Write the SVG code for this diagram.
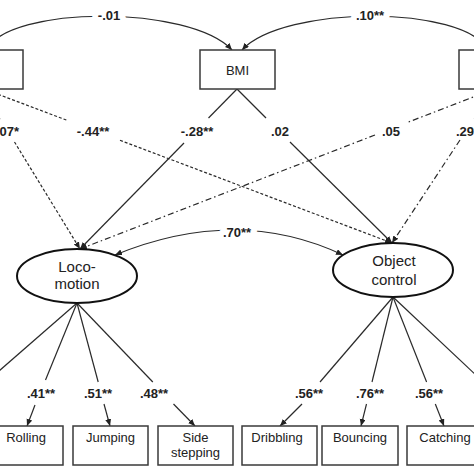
<svg xmlns="http://www.w3.org/2000/svg" width="474" height="474" viewBox="0 0 474 474">
<defs>
<marker id="ah" markerUnits="userSpaceOnUse" markerWidth="9" markerHeight="8" refX="7" refY="3" orient="auto-start-reverse">
<path d="M0,0 L7,3 L0,6 z" fill="#222"/>
</marker>
<style>
.box{fill:#fff;stroke:#3a3a3a;stroke-width:1.5}
.lat{fill:#fff;stroke:#111;stroke-width:2}
.ln{fill:none;stroke:#2a2a2a;stroke-width:1.2}
.dash{stroke-dasharray:3,2}
.dd{stroke-dasharray:6,3,1.5,3}
.t{font-family:"Liberation Sans",Arial,sans-serif;font-size:13px;fill:#222;text-anchor:middle}
.tl{font-family:"Liberation Sans",Arial,sans-serif;font-size:15px;fill:#222;text-anchor:middle}
.n{font-family:"Liberation Sans",Arial,sans-serif;font-size:13px;font-weight:bold;fill:#222;text-anchor:middle}
.halo{stroke:#fff;stroke-width:12;paint-order:stroke;stroke-linejoin:round}
</style>
</defs>
<rect width="474" height="474" fill="#fff"/>
<g id="connectors">
<!-- top correlations -->
<path class="ln" d="M -14,50 C 10,5 190,5 232,50" marker-start="url(#ah)" marker-end="url(#ah)"/>
<path class="ln" d="M 488,50 C 464,5 284,5 242,50" marker-start="url(#ah)" marker-end="url(#ah)"/>
<!-- latent correlation -->
<path class="ln" d="M 115,255 Q 237,205 343,255" marker-start="url(#ah)" marker-end="url(#ah)"/>
<!-- left box to Loco-motion (dashed) -->
<path class="ln dash" d="M -18,89 L 0.4,119"/>
<path class="ln dash" d="M 14.5,142 L 80,249" marker-end="url(#ah)"/>
<!-- left box to Object control (dashed) -->
<path class="ln dash" d="M -16,89 L 67,120.3"/>
<path class="ln dash" d="M 120,140.3 L 392,243" marker-end="url(#ah)"/>
<!-- BMI to Loco-motion -->
<path class="ln" d="M 237,89 L 208.5,118"/>
<path class="ln" d="M 184,143 L 80,249" marker-end="url(#ah)"/>
<!-- BMI to Object control -->
<path class="ln" d="M 237,89 L 266,118"/>
<path class="ln" d="M 290,142 L 392,243" marker-end="url(#ah)"/>
<!-- right box to Loco-motion (dash-dot) -->
<path class="ln dd" d="M 494,89 L 407,122.6"/>
<path class="ln dd" d="M 375,135 L 80,249" marker-end="url(#ah)"/>
<!-- right box to Object control (dash-dot) -->
<path class="ln dd" d="M 494,89 L 474,119"/>
<path class="ln dd" d="M 460,140 L 392,243" marker-end="url(#ah)"/>
<!-- Loco-motion indicators -->
<path class="ln" d="M 77,303 L -64,426" marker-end="url(#ah)"/>
<path class="ln" d="M 77,303 L 45.5,380"/>
<path class="ln" d="M 35,405 L 27,426" marker-end="url(#ah)"/>
<path class="ln" d="M 77,303 L 98.2,382"/>
<path class="ln" d="M 104,404 L 110,426" marker-end="url(#ah)"/>
<path class="ln" d="M 77,303 L 152.8,382"/>
<path class="ln" d="M 173.5,404 L 195,426" marker-end="url(#ah)"/>
<!-- Object control indicators -->
<path class="ln" d="M 393,297 L 320,382"/>
<path class="ln" d="M 302,404 L 280,426" marker-end="url(#ah)"/>
<path class="ln" d="M 393,297 L 372,382"/>
<path class="ln" d="M 366.5,404 L 361,426" marker-end="url(#ah)"/>
<path class="ln" d="M 393,297 L 426.6,382"/>
<path class="ln" d="M 435.3,404 L 444,426" marker-end="url(#ah)"/>
<path class="ln" d="M 393,297 L 530,426" marker-end="url(#ah)"/>
</g>
<g id="labels">
<text class="n halo" x="109" y="20">-.01</text>
<text class="n halo" x="370" y="20">.10**</text>
<text class="n halo" x="237" y="237">.70**</text>
<text class="n" x="19" y="136" style="text-anchor:end">.07*</text>
<text class="n" x="93" y="136">-.44**</text>
<text class="n" x="197" y="136">-.28**</text>
<text class="n" x="280" y="136">.02</text>
<text class="n" x="391" y="136">.05</text>
<text class="n" x="456" y="136" style="text-anchor:start">.29**</text>
<text class="n" x="41" y="398">.41**</text>
<text class="n" x="98" y="398">.51**</text>
<text class="n" x="154" y="398">.48**</text>
<text class="n" x="309" y="398">.56**</text>
<text class="n" x="370" y="398">.76**</text>
<text class="n" x="429" y="398">.56**</text>
</g>
<g id="node-left"><rect class="box" x="-52" y="50" width="75" height="39"/></g>
<g id="node-bmi"><rect class="box" x="200" y="50" width="75" height="39"/><text class="t" x="237.5" y="75">BMI</text></g>
<g id="node-right"><rect class="box" x="459" y="50" width="75" height="39"/></g>
<g id="node-loco"><ellipse class="lat" cx="77" cy="276" rx="60" ry="27"/><text class="tl" x="77" y="272">Loco-</text><text class="tl" x="77" y="289">motion</text></g>
<g id="node-object"><ellipse class="lat" cx="393" cy="270" rx="60" ry="27"/><text class="tl" x="394" y="266">Object</text><text class="tl" x="394" y="285">control</text></g>
<g id="node-rolling"><rect class="box" x="-12" y="426" width="75" height="39"/><text class="t" x="26" y="442">Rolling</text></g>
<g id="node-jumping"><rect class="box" x="73" y="426" width="75" height="39"/><text class="t" x="110.5" y="442">Jumping</text></g>
<g id="node-side"><rect class="box" x="158" y="426" width="75" height="39"/><text class="t" x="195.5" y="442">Side</text><text class="t" x="195.5" y="457">stepping</text></g>
<g id="node-dribbling"><rect class="box" x="242" y="426" width="75" height="39"/><text class="t" x="277" y="442">Dribbling</text></g>
<g id="node-bouncing"><rect class="box" x="322" y="426" width="76" height="39"/><text class="t" x="360" y="442">Bouncing</text></g>
<g id="node-catching"><rect class="box" x="407" y="426" width="75" height="39"/><text class="t" x="445" y="442">Catching</text></g>
</svg>
